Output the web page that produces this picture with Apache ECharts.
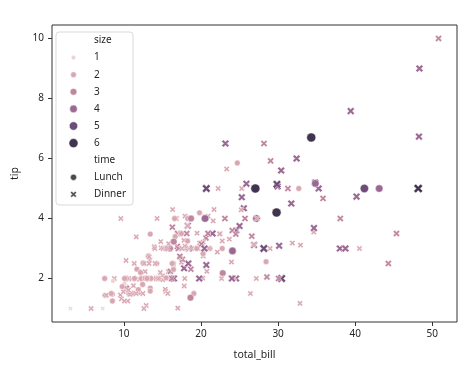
<!DOCTYPE html>
<html>
<head>
<meta charset="utf-8">
<script src="https://cdn.jsdelivr.net/npm/echarts@6/dist/echarts.min.js"></script>
<style>html,body{margin:0;padding:0;background:#fff;}#chart{width:474px;height:366px;}</style>
</head>
<body>
<div id="chart"></div>
<script>
// tips dataset: total_bill, tip, time (D=Dinner, L=Lunch), size
const totalBill = [16.99,10.34,21.01,23.68,24.59,25.29,8.77,26.88,15.04,14.78,10.27,35.26,15.42,18.43,14.83,21.58,10.33,16.29,16.97,20.65,17.92,20.29,15.77,39.42,19.82,17.81,13.37,12.69,21.7,19.65,9.55,18.35,15.06,20.69,17.78,24.06,16.31,16.93,18.69,31.27,16.04,17.46,13.94,9.68,30.4,18.29,22.23,32.4,28.55,18.04,12.54,10.29,34.81,9.94,25.56,19.49,38.01,26.41,11.24,48.27,20.29,13.81,11.02,18.29,17.59,20.08,16.45,3.07,20.23,15.01,12.02,17.07,26.86,25.28,14.73,10.51,17.92,27.2,22.76,17.29,19.44,16.66,10.07,32.68,15.98,34.83,13.03,18.28,24.71,21.16,28.97,22.49,5.75,16.32,22.75,40.17,27.28,12.03,21.01,12.46,11.35,15.38,44.3,22.42,20.92,15.36,20.49,25.21,18.24,14.31,14.0,7.25,38.07,23.95,25.71,17.31,29.93,10.65,12.43,24.08,11.69,13.42,14.26,15.95,12.48,29.8,8.52,14.52,11.38,22.82,19.08,20.27,11.17,12.26,18.26,8.51,10.33,14.15,16.0,13.16,17.47,34.3,41.19,27.05,16.43,8.35,18.64,11.87,9.78,7.51,14.07,13.13,17.26,24.55,19.77,29.85,48.17,25.0,13.39,16.49,21.5,12.66,16.21,13.81,17.51,24.52,20.76,31.71,10.59,10.63,50.81,15.81,7.25,31.85,16.82,32.9,17.89,14.48,9.6,34.63,34.65,23.33,45.35,23.17,40.55,20.69,20.9,30.46,18.15,23.1,15.69,19.81,28.44,15.48,16.58,7.56,10.34,43.11,13.0,13.51,18.71,12.74,13.0,16.4,20.53,16.47,26.59,38.73,24.27,12.76,30.06,25.89,48.33,13.27,28.17,12.9,28.15,11.59,7.74,30.14,12.16,13.42,8.58,15.98,13.42,16.27,10.09,20.45,13.28,22.12,24.01,15.69,11.61,10.77,15.53,10.07,12.6,32.83,35.83,29.03,27.18,22.67,17.82,18.78];
const tipValues = [1.01,1.66,3.5,3.31,3.61,4.71,2.0,3.12,1.96,3.23,1.71,5.0,1.57,3.0,3.02,3.92,1.67,3.71,3.5,3.35,4.08,2.75,2.23,7.58,3.18,2.34,2.0,2.0,4.3,3.0,1.45,2.5,3.0,2.45,3.27,3.6,2.0,3.07,2.31,5.0,2.24,2.54,3.06,1.32,5.6,3.0,5.0,6.0,2.05,3.0,2.5,2.6,5.2,1.56,4.34,3.51,3.0,1.5,1.76,6.73,3.21,2.0,1.98,3.76,2.64,3.15,2.47,1.0,2.01,2.09,1.97,3.0,3.14,5.0,2.2,1.25,3.08,4.0,3.0,2.71,3.0,3.4,1.83,5.0,2.03,5.17,2.0,4.0,5.85,3.0,3.0,3.5,1.0,4.3,3.25,4.73,4.0,1.5,3.0,1.5,2.5,3.0,2.5,3.48,4.08,1.64,4.06,4.29,3.76,4.0,3.0,1.0,4.0,2.55,4.0,3.5,5.07,1.5,1.8,2.92,2.31,1.68,2.5,2.0,2.52,4.2,1.48,2.0,2.0,2.18,1.5,2.83,1.5,2.0,3.25,1.25,2.0,2.0,2.0,2.75,3.5,6.7,5.0,5.0,2.3,1.5,1.36,1.63,1.73,2.0,2.5,2.0,2.74,2.0,2.0,5.14,5.0,3.75,2.61,2.0,3.5,2.5,2.0,2.0,3.0,3.48,2.24,4.5,1.61,2.0,10.0,3.16,5.15,3.18,4.0,3.11,2.0,2.0,4.0,3.55,3.68,5.65,3.5,6.5,3.0,5.0,3.5,2.0,3.5,4.0,1.5,4.19,2.56,2.02,4.0,1.44,2.0,5.0,2.0,2.0,4.0,2.01,2.0,2.5,4.0,3.23,3.41,3.0,2.03,2.23,2.0,5.16,9.0,2.5,6.5,1.1,3.0,1.5,1.44,3.09,2.2,3.48,1.92,3.0,1.58,2.5,2.0,3.0,2.72,2.88,2.0,3.0,3.39,1.47,3.0,1.25,1.0,1.17,4.67,5.92,2.0,2.0,1.75,3.0];
const timeCodes = [
'D','D','D','D','D','D','D','D','D','D',
'D','D','D','D','D','D','D','D','D','D',
'D','D','D','D','D','D','D','D','D','D',
'D','D','D','D','D','D','D','D','D','D',
'D','D','D','D','D','D','D','D','D','D',
'D','D','D','D','D','D','D','D','D','D',
'D','D','D','D','D','D','D','D','D','D',
'D','D','D','D','D','D','D','L','L','L',
'L','L','L','L','L','L','L','L','L','L',
'D','D','D','D','D','D','D','D','D','D',
'D','D','D','D','D','D','D','D','D','D',
'D','D','D','D','D','D','D','L','L','L',
'L','L','L','L','L','L','L','L','L','L',
'L','L','L','L','L','L','L','L','L','L',
'L','L','L','L','L','L','L','L','L','L',
'D','D','D','D','D','D','D','D','D','D',
'D','D','D','D','D','D','D','D','D','D',
'D','D','D','D','D','D','D','D','D','D',
'D','D','D','D','D','D','D','D','D','D',
'D','L','L','L','L','L','L','L','L','L',
'L','L','L','L','L','L','D','D','D','D',
'D','D','D','D','D','D','D','D','D','D',
'L','L','L','L','L','L','L','D','D','D',
'D','D','D','D','D','D','D','D','D','D',
'D','D','D','D'];
const partySize = [
2,3,3,2,4,4,2,4,2,2, 2,4,2,4,2,2,3,3,3,3, 2,2,2,4,2,4,2,2,2,2, 2,4,2,4,2,3,3,3,3,3,
3,2,2,2,4,2,2,4,3,2, 2,2,4,2,4,2,4,2,2,4, 2,2,2,4,3,3,2,1,2,2, 2,3,2,2,2,2,2,4,2,2,
2,2,1,2,2,4,2,2,2,2, 2,2,2,2,2,4,2,2,2,2, 2,2,3,2,2,2,2,2,2,2, 2,1,3,2,3,2,4,2,2,4,
2,2,2,2,2,6,2,2,2,3, 2,2,2,2,2,2,2,2,2,2, 2,6,5,6,2,2,3,2,2,2, 2,2,3,4,4,5,6,4,2,4,
4,2,3,2,2,3,2,4,2,2, 3,2,2,2,2,2,2,2,2,2, 4,2,3,4,2,5,3,5,3,3, 2,2,2,2,2,2,2,4,2,2,
3,2,2,2,4,3,3,4,2,2, 3,4,4,2,3,2,5,2,2,4, 2,2,1,3,2,2,2,4,2,2, 4,3,2,2,2,2,2,2,3,3,
2,2,2,2];

const sizeLevels = [1,2,3,4,5,6];
const timeLevels = ['Lunch','Dinner'];
const xTicks = [10,20,30,40,50];
const yTicks = [2,4,6,8,10];

// style
const palette = ['#ecd3d0','#d9a7b2','#c086a0','#9a6892','#6c4d77','#40344f'];
const markerPx = [4.6,5.8,6.8,7.6,8.4,9.1];
const X_PTS = [[0,2.3],[2.3,0],[5,2.7],[7.7,0],[10,2.3],[7.3,5],[10,7.7],[7.7,10],[5,7.3],[2.3,10],[0,7.7],[2.7,5]];
const X_PATH = 'path://M' + X_PTS.map(p => p[0] + ',' + p[1]).join('L') + 'Z';
const FONT = '"Noto Sans", "Open Sans", sans-serif';
const TXT = '#262626';

const points = totalBill.map((b, i) => [b, tipValues[i], partySize[i], timeCodes[i]]);

const chart = echarts.init(document.getElementById('chart'), null, {renderer: 'canvas'});

// legend drawn as graphic
const lg = [];
const lx = 56, ly = 32, rowH = 17.1;
lg.push({type:'rect', shape:{x:lx, y:ly, width:77, height:173, r:3}, style:{fill:'rgba(255,255,255,0.85)', stroke:'#d9d9d9', lineWidth:1}, z:10});
const textEl = (t, y) => ({type:'text', x:94, y:y, style:{text:t, fill:TXT, font:'10px ' + FONT, textVerticalAlign:'middle', textAlign:'left'}, z:11});
let ry = ly + 8.5;
lg.push(textEl('size', ry));
sizeLevels.forEach((s, k) => {
  ry += rowH;
  const r = markerPx[k] / 2;
  lg.push({type:'circle', shape:{cx:73.5, cy:ry, r:r}, style:{fill:palette[k], stroke:'#fff', lineWidth:0.5}, z:11});
  lg.push(textEl(String(s), ry));
});
ry += rowH;
lg.push(textEl('time', ry));
ry += rowH;
lg.push({type:'circle', shape:{cx:73.5, cy:ry, r:3.1}, style:{fill:'#4a4a4a', stroke:'#fff', lineWidth:0.5}, z:11});
lg.push(textEl(timeLevels[0], ry));
ry += rowH;
const xs = 6.2;
lg.push({type:'polygon', shape:{points: X_PTS.map(p => [73.5 - xs/2 + p[0]*xs/10, ry - xs/2 + p[1]*xs/10])}, style:{fill:'#4a4a4a', stroke:'#fff', lineWidth:0.5}, z:11});
lg.push(textEl(timeLevels[1], ry));

const option = {
  backgroundColor: '#fff',
  animation: false,
  grid: {left:52, right:17, top:25, bottom:40, show:true, borderColor:'#333', borderWidth:1, backgroundColor:'transparent'},
  xAxis: {
    type:'value', min:0.68, max:53.2,
    name:'total_bill', nameLocation:'middle', nameGap:28,
    nameTextStyle:{color:TXT, fontSize:10.5, fontFamily:FONT},
    axisLine:{show:false},
    axisTick:{show:true, length:4, customValues:xTicks, lineStyle:{color:'#333'}},
    axisLabel:{customValues:xTicks, color:TXT, fontSize:10, fontFamily:FONT, margin:7},
    splitLine:{show:false}
  },
  yAxis: {
    type:'value', min:0.55, max:10.45,
    name:'tip', nameLocation:'middle', nameGap:31, nameRotate:90,
    nameTextStyle:{color:TXT, fontSize:10.5, fontFamily:FONT},
    axisLine:{show:false},
    axisTick:{show:true, length:4, customValues:yTicks, lineStyle:{color:'#333'}},
    axisLabel:{customValues:yTicks, color:TXT, fontSize:10, fontFamily:FONT, margin:8},
    splitLine:{show:false}
  },
  series: [{
    type:'scatter',
    data: points,
    symbol: (v) => v[3] === 'L' ? 'circle' : X_PATH,
    symbolSize: (v) => markerPx[v[2]-1],
    itemStyle: {
      color: (p) => palette[p.value[2]-1],
      borderColor:'#fff', borderWidth:0.5, opacity:1
    },
    emphasis:{disabled:true}
  }],
  graphic: lg
};
chart.setOption(option);
</script>
</body>
</html>
